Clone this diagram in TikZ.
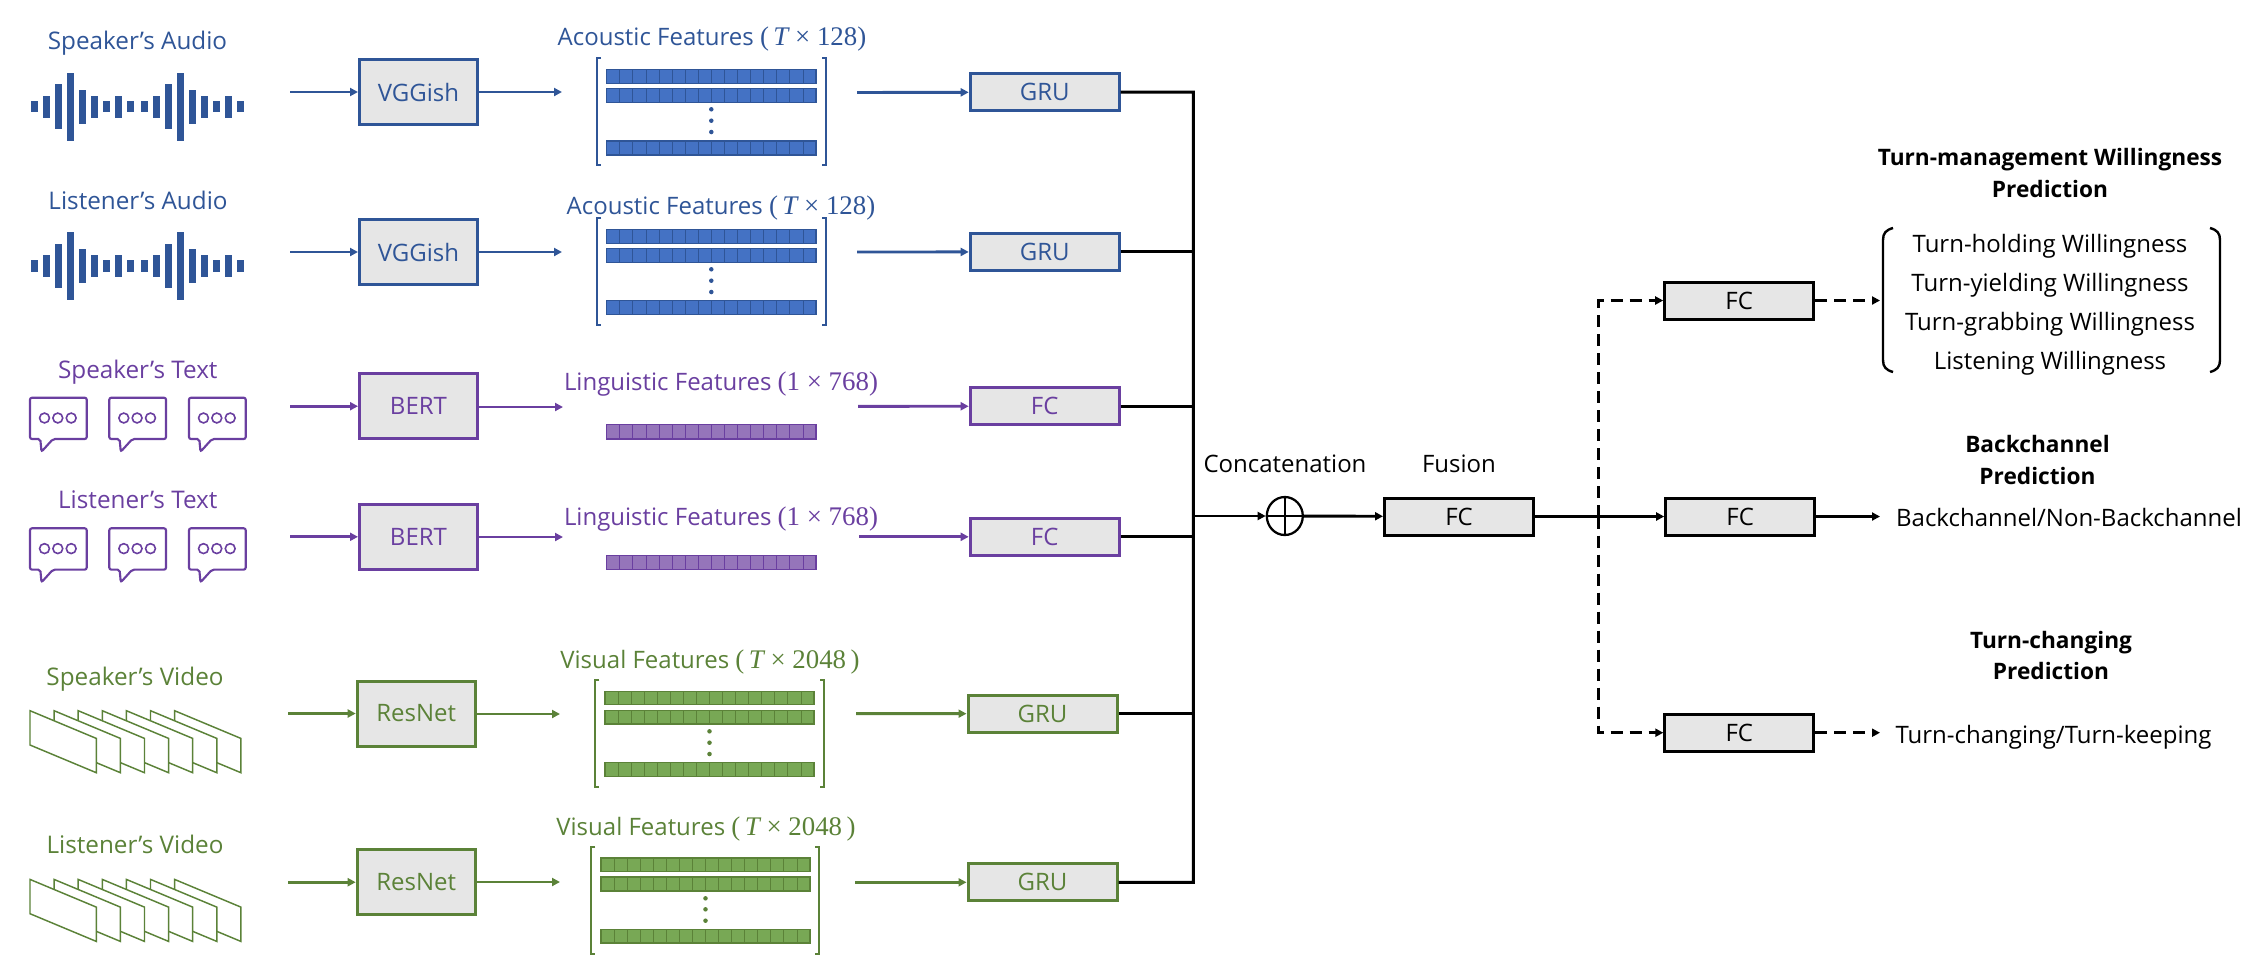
\documentclass[tikz,border=0pt]{standalone}
\usepackage{fontspec}
\setmainfont{Open Sans}
\newfontfamily\smf[Scale=1.12]{Liberation Serif}
\usetikzlibrary{arrows.meta,shapes.geometric}
\definecolor{bl}{HTML}{2F5597}
\definecolor{blf}{HTML}{4472C4}
\definecolor{pu}{HTML}{6A3FA0}
\definecolor{puf}{HTML}{9575BA}
\definecolor{gr}{HTML}{5B8238}
\definecolor{grf}{HTML}{78A855}
\definecolor{boxf}{HTML}{E6E6E6}
\tikzset{
  txt/.style={font=\fontsize{18}{21}\selectfont,inner sep=0pt,text height=17pt,text depth=2pt,anchor=center},
  ltxt/.style={txt,font=\fontsize{18.2}{21}\selectfont,text height=16pt},
  btxt/.style={txt,font=\fontsize{17}{20}\selectfont\bfseries,text height=15pt},
  box/.style={draw=#1,text=#1,fill=boxf,line width=2.25pt,inner sep=0pt,font=\fontsize{18}{21}\selectfont},
  big/.style={box=#1,minimum width=88.5pt,minimum height=48.75pt},
  small/.style={box=#1,minimum width=111.75pt,minimum height=27.75pt},
  arr/.style={draw=#1,line width=2.2pt,-{Triangle[length=6pt,width=6pt]}},
  darr/.style={arr=black,dash pattern=on 9pt off 5.25pt},
  bus/.style={draw=black,line width=2.25pt},
}
\newcommand\cellstrip[6]{%
  \path[fill=#5,draw=#6,line width=.8pt] (#1,#3) rectangle (#2,#4);
  \foreach \ci in {1,...,15}{\draw[#6,line width=.6pt] ({#1+(#2-#1)*\ci/16},#3) -- ({#1+(#2-#1)*\ci/16},#4);}}
\newcommand\brk[5]{%
  \draw[#5,line width=1.5pt] ({#1+4},#3) -- (#1,#3) -- (#1,#4) -- ({#1+4},#4);
  \draw[#5,line width=1.5pt] ({#2-4},#3) -- (#2,#3) -- (#2,#4) -- ({#2-4},#4);}
\newcommand\threedots[5]{%
  \foreach \dy in {#2,#3,#4}{\fill[#5] (#1,\dy) circle (1.7pt);}}
\newcommand\wave[1]{%
  \foreach \wx/\wh in {34.7/11.3,46.7/22.3,58.7/44.7,70.7/67.7,82.7/34,94.7/22.3,106.7/11.3,118.7/22.3,130.7/11.3,144.3/11.3,156.3/22.3,168.3/44.7,180.3/67.7,192.3/34,204.3/22.3,216.3/11.3,228.3/22.3,240.3/11.3}
    {\fill[bl] ({\wx-3.6},{#1-\wh/2}) rectangle ({\wx+3.6},{#1+\wh/2});}}
\newcommand\chat[2]{%
  \draw[pu,line width=1.6pt,rounded corners=1.5pt] (#1,#2) -- ({#1+56.7},#2) -- ({#1+56.7},{#2+41.3}) -- ({#1+23},{#2+41.3}) -- ({#1+11.5},{#2+54}) -- ({#1+10.3},{#2+41.3}) -- (#1,{#2+41.3}) -- cycle;
  \foreach \cc in {14.5,27.8,41.2}{\draw[pu,line width=1.2pt] ({#1+\cc},{#2+20.3}) circle (3.7pt);}}
\newcommand\frames[1]{%
  \foreach \fk in {6,5,...,0}{
    \draw[gr,fill=white,line width=1.1pt] ({30+24.1*\fk},#1) -- ({96.3+24.1*\fk},{#1+27.7}) -- ({96.3+24.1*\fk},{#1+62}) -- ({30+24.1*\fk},{#1+34.3}) -- cycle;}}
\begin{document}
\begin{tikzpicture}[x=0.75pt,y=-0.75pt]
\useasboundingbox (0,0) rectangle (2264,976);

% Row labels
\node[ltxt,text=bl] (l1) at (137.5,40) {Speaker’s Audio};
\node[ltxt,text=bl] (l2) at (138,200) {Listener’s Audio};
\node[ltxt,text=pu] (l3) at (137.8,369) {Speaker’s Text};
\node[ltxt,text=pu] (l4) at (137.8,499) {Listener’s Text};
\node[ltxt,text=gr] (l5) at (135,675.7) {Speaker’s Video};
\node[ltxt,text=gr] (l6) at (135,844.3) {Listener’s Video};

% Icons
\wave{106.7}
\wave{266}
\foreach \cx in {30,109.3,189}{\chat{\cx}{397.7}\chat{\cx}{528.3}}
\frames{710.7}
\frames{879.4}

% Encoders
\node[big=bl] (e1) at (418.5,92) {VGGish};
\node[big=bl] (e2) at (418.5,252) {VGGish};
\node[big=pu] (e3) at (418.5,406.2) {BERT};
\node[big=pu] (e4) at (418.5,536.8) {BERT};
\node[big=gr] (e5) at (416.2,713.5) {ResNet};
\node[big=gr] (e6) at (416.2,882.2) {ResNet};

% Free ends
\coordinate (i1) at (290,92);
\coordinate (i2) at (290,252);
\coordinate (i3) at (290,406.2);
\coordinate (i4) at (290,536.8);
\coordinate (i5) at (288,713.5);
\coordinate (i6) at (288,882.2);
\coordinate (o1) at (562,92);
\coordinate (o2) at (562,252);
\coordinate (o3) at (563,407);
\coordinate (o4) at (563,537);
\coordinate (o5) at (560,714);
\coordinate (o6) at (560,882);
\coordinate (f1) at (857,92.5);
\coordinate (f2) at (857,252);
\coordinate (f3) at (858,406.3);
\coordinate (f4) at (859,536.8);
\coordinate (f5) at (856,713.6);
\coordinate (f6) at (855,882.3);

\foreach \rr/\cc in {1/bl,2/bl,3/pu,4/pu,5/gr,6/gr}{
  \draw[arr=\cc] (i\rr) -- (e\rr);
  \draw[arr=\cc] (e\rr.east |- o\rr) -- (o\rr);
}

% Feature titles
\node[txt,text=bl] (t1) at (712,35) {Acoustic Features {\smf(\,{\itshape T} × 128)}};
\node[txt,text=bl] (t2) at (721,204) {Acoustic Features {\smf(\,{\itshape T} × 128)}};
\node[txt,text=pu] (t3) at (721,380) {Linguistic Features {\smf(1 × 768)}};
\node[txt,text=pu] (t4) at (721,515.7) {Linguistic Features {\smf(1 × 768)}};
\node[txt,text=gr] (t5) at (710,658) {Visual Features {\smf(\,{\itshape T} × 2048\,)}};
\node[txt,text=gr] (t6) at (706,825.7) {Visual Features {\smf(\,{\itshape T} × 2048\,)}};

% Feature matrices
\brk{597}{826}{58.3}{165}{bl}
\cellstrip{606.7}{816}{69.3}{83.3}{blf}{bl}
\cellstrip{606.7}{816}{88.3}{102.3}{blf}{bl}
\cellstrip{606.7}{816}{141}{155}{blf}{bl}
\threedots{711.3}{109.3}{120.7}{132}{bl}
\brk{597}{826}{218.3}{325}{bl}
\cellstrip{606.7}{816}{229.3}{243.3}{blf}{bl}
\cellstrip{606.7}{816}{248.3}{262.3}{blf}{bl}
\cellstrip{606.7}{816}{300.7}{314.7}{blf}{bl}
\threedots{711.3}{269.3}{280.7}{292}{bl}
\cellstrip{606.7}{816}{424.7}{439}{puf}{pu}
\cellstrip{606.7}{816}{555.3}{569.3}{puf}{pu}
\brk{595.3}{824.3}{680}{787}{gr}
\cellstrip{605}{814}{691.3}{704.7}{grf}{gr}
\cellstrip{605}{814}{710.3}{724}{grf}{gr}
\cellstrip{605}{814}{762.7}{776.3}{grf}{gr}
\threedots{709.5}{731.3}{742.7}{754}{gr}
\brk{591.3}{819}{847}{954}{gr}
\cellstrip{601}{810}{858}{871.7}{grf}{gr}
\cellstrip{601}{810}{877}{891}{grf}{gr}
\cellstrip{601}{810}{929.3}{943}{grf}{gr}
\threedots{705.5}{898.3}{909.3}{920.7}{gr}

% Per-modality heads
\node[small=bl] (g1) at (1044.7,92.2) {GRU};
\node[small=bl] (g2) at (1044.7,251.9) {GRU};
\node[small=pu] (g3) at (1044.7,406.2) {FC};
\node[small=pu] (g4) at (1044.7,536.8) {FC};
\node[small=gr] (g5) at (1042.5,713.7) {GRU};
\node[small=gr] (g6) at (1042.5,882.3) {GRU};
\foreach \rr/\cc in {1/bl,2/bl,3/pu,4/pu,5/gr,6/gr}{
  \draw[arr=\cc] (f\rr) -- (g\rr);
}

% Bus
\coordinate (busT) at (1193.3,92);
\coordinate (busB) at (1193.3,882.3);
\coordinate (busM) at (1193.3,516);
\draw[bus] (g1.east) -- (busT) -- (busB) -- (g6.east);
\foreach \rr in {2,3,4,5}{\draw[bus] (g\rr.east) -- (g\rr.east -| busT);}

% Concatenation
\node[draw=black,line width=1.7pt,ellipse,fill=white,minimum width=27pt,minimum height=28.5pt,inner sep=0pt] (c) at (1284.8,516) {};
\draw[black,line width=1.5pt] (c.north) -- (c.south);
\draw[black,line width=1.5pt] (c.west) -- (c.east);
\node[txt,text height=16pt] (lc) at (1285,463) {Concatenation};
\node[txt,text height=16pt] (lf) at (1459,463) {Fusion};
\node[small=black] (fu) at (1459,516.5) {FC};
\draw[arr=black] (busM) -- (c);
\draw[arr=black] (c) -- (fu);

% Task heads
\node[small=black] (h1) at (1739.2,300.5) {FC};
\node[small=black] (h2) at (1740.2,516.5) {FC};
\node[small=black] (h3) at (1739.3,732.7) {FC};
\coordinate (j) at (1598.7,516.5);
\draw[arr=black] (fu) -- (h2);
\draw[darr] (j) |- (h1);
\draw[darr] (j) |- (h3);

% Outputs
\coordinate (p1) at (1880,300.5);
\coordinate (p2) at (1880,516.5);
\coordinate (p3) at (1880,732.7);
\draw[darr] (h1) -- (p1);
\draw[arr=black] (h2) -- (p2);
\draw[darr] (h3) -- (p3);

\draw[black,line width=1.8pt] (1893,228) .. controls (1886,230) and (1883,233) .. (1883,240) -- (1883,360) .. controls (1883,367) and (1886,370) .. (1893,372);
\draw[black,line width=1.8pt] (2210,228) .. controls (2217,230) and (2220,233) .. (2220,240) -- (2220,360) .. controls (2220,367) and (2217,370) .. (2210,372);

\node[btxt] (a1) at (2050,157) {Turn-management Willingness};
\node[btxt] (a2) at (2050,189) {Prediction};
\node[txt] (w1) at (2050,242) {Turn-holding Willingness};
\node[txt] (w2) at (2050,281) {Turn-yielding Willingness};
\node[txt] (w3) at (2050,320) {Turn-grabbing Willingness};
\node[txt] (w4) at (2050,359) {Listening Willingness};
\node[btxt] (b1) at (2037.5,444.3) {Backchannel};
\node[btxt] (b2) at (2037.5,476) {Prediction};
\node[txt] (b3) at (2069,516.5) {Backchannel/Non-Backchannel};
\node[btxt] (d1) at (2051,640) {Turn-changing};
\node[btxt] (d2) at (2051,670.7) {Prediction};
\node[txt] (d3) at (2053.5,733) {Turn-changing/Turn-keeping};
\end{tikzpicture}
\end{document}
